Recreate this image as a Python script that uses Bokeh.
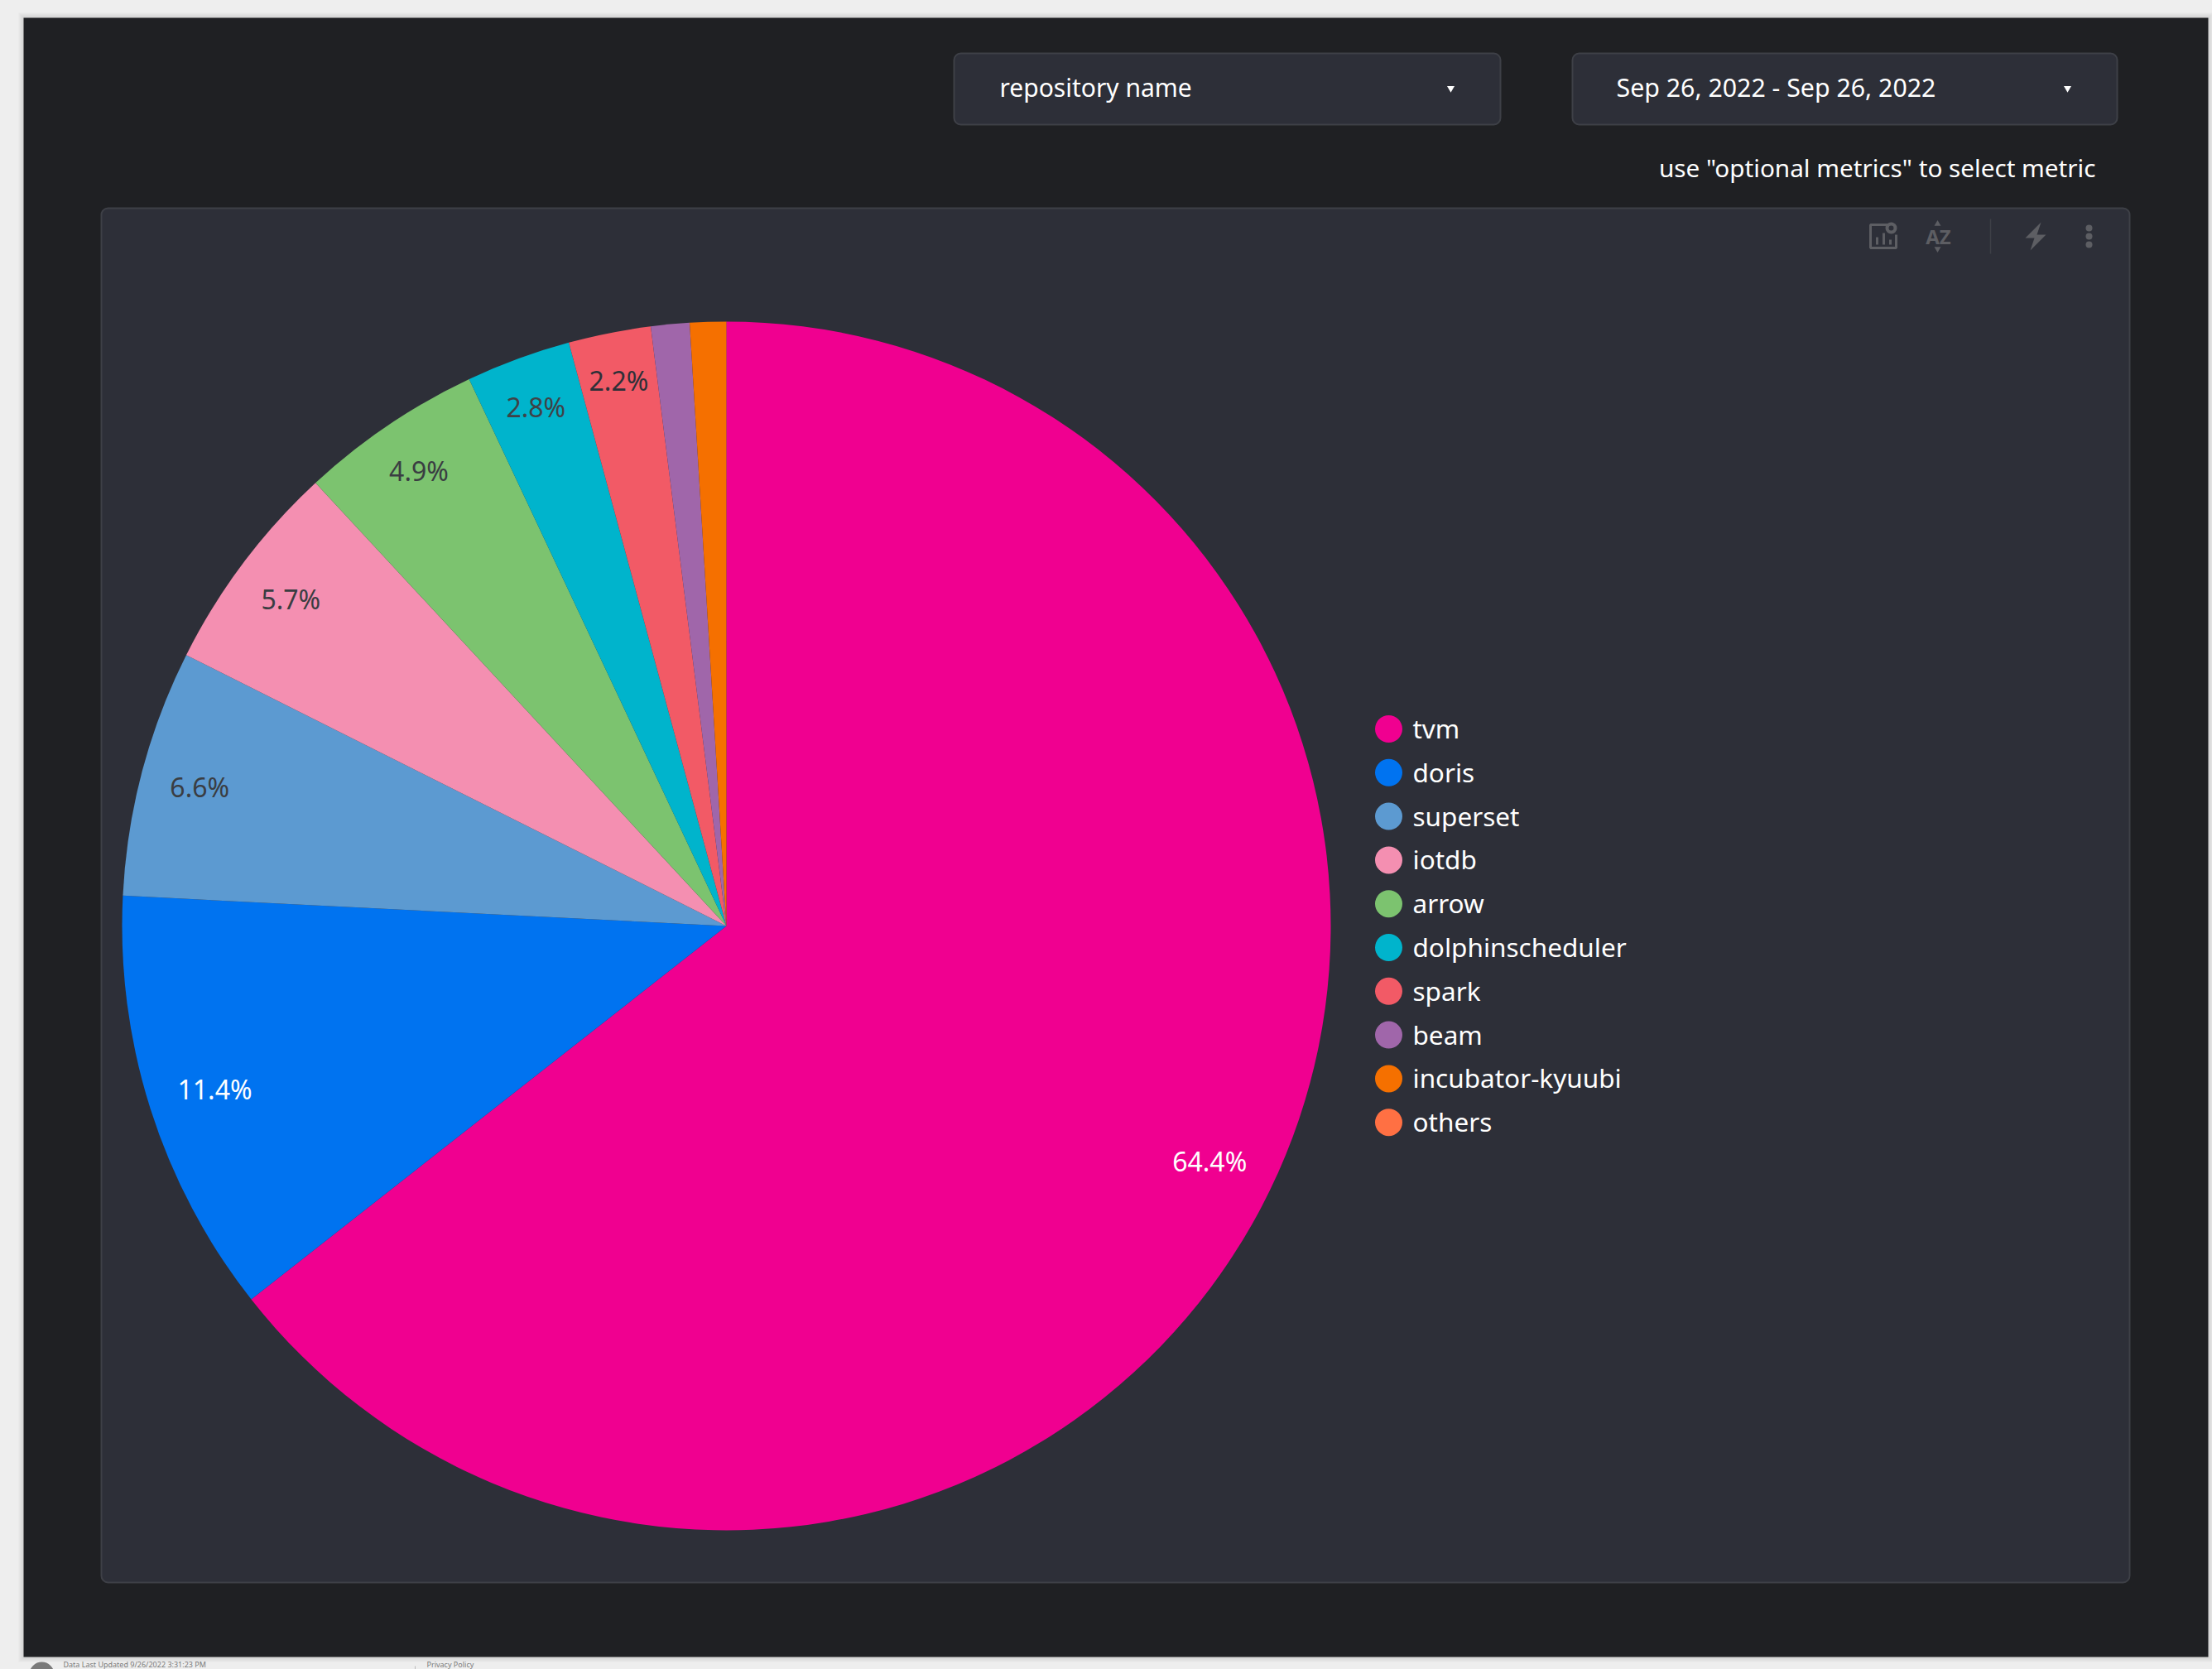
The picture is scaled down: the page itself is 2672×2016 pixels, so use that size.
import math
from bokeh.plotting import figure
from bokeh.models import Range1d
from bokeh.core.properties import value
from bokeh.embed import file_html
from bokeh.resources import INLINE

# ---- data ----
names = ["tvm", "doris", "superset", "iotdb", "arrow", "dolphinscheduler",
         "spark", "beam", "incubator-kyuubi", "others"]
shares = [64.4, 11.4, 6.6, 5.7, 4.9, 2.8, 2.2, 1.03, 0.96, 0.01]
colors = ["#f00090", "#0073f0", "#5c9ad1", "#f48fb1", "#7cc36f", "#00b4cc",
          "#f25a66", "#a066aa", "#f57000", "#ff7043"]
label_colors = ["#ffffff", "#ffffff", "#3a3d42", "#3a3d42", "#3a3d42", "#3f4247",
                "#2f3038", "#3a3d42", "#3a3d42", "#3a3d42"]
label_radii = [649, 648.5, 658, 658, 664, 668, 672, 672, 672, 672]
dropdown_labels = ["repository name", "Sep 26, 2022 - Sep 26, 2022"]
hint = 'use "optional metrics" to select metric'
footer_left = "Data Last Updated 9/26/2022 3:31:23 PM"
footer_right = "Privacy Policy"

# ---- page geometry ----
W, H = 2672, 2016
PAGE_BG = "#eeeeee"
DARK = "#1f2023"
PANEL = "#2d2f38"
EDGE = "#3e4047"
FONT = value("Noto Sans")
ICON = "#5d5e63"
FOOT = "#7a7a7a"


def Y(y):
    return H - y


p = figure(width=W, height=H, output_backend="svg", toolbar_location=None,
           x_range=Range1d(0, W), y_range=Range1d(0, H),
           min_border=0, min_border_left=0, min_border_right=0,
           min_border_top=0, min_border_bottom=0,
           background_fill_color=PAGE_BG, border_fill_color=PAGE_BG,
           outline_line_color=None)
p.axis.visible = False
p.grid.visible = False

# footer
p.circle(x=[50], y=[Y(2022)], radius=15, fill_color=FOOT, line_color=None)
p.text(x=[76], y=[Y(2003)], text=[footer_left], text_color=FOOT, text_font=FONT,
       text_font_size="9px", text_baseline="top", text_align="left")
p.text(x=[515], y=[Y(2003)], text=[footer_right], text_color=FOOT, text_font=FONT,
       text_font_size="9px", text_baseline="top", text_align="left")
p.segment(x0=[501], y0=[Y(2012)], x1=[501], y1=[Y(2016)], line_color="#bbbbbb", line_width=1)

# page panels with a soft shadow
for grow in (6, 4, 2):
    p.quad(left=[28 - grow], right=[2667 + grow], top=[Y(21 - grow)], bottom=[Y(2001 + grow)],
           fill_color="#000000", fill_alpha=0.03, line_color=None)
p.quad(left=[28], right=[2667], top=[Y(21)], bottom=[Y(2001)],
       fill_color=DARK, line_color=None)
p.quad(left=[122], right=[2572], top=[Y(251)], bottom=[Y(1911)],
       fill_color=PANEL, line_color=EDGE, line_width=2, border_radius=8)

# dropdowns
for x0, x1, label, tx, cx, fs in [(1152, 1812, dropdown_labels[0], 1207, 1752, "30px"),
                                  (1899, 2557, dropdown_labels[1], 1952, 2497, "30.3px")]:
    p.quad(left=[x0], right=[x1], top=[Y(64)], bottom=[Y(150)],
           fill_color=PANEL, line_color=EDGE, line_width=2, border_radius=8)
    p.text(x=[tx], y=[Y(105)], text=[label], text_color="#ffffff", text_font=FONT,
           text_font_size=fs, text_baseline="middle", text_align="left")
    p.scatter(x=[cx], y=[Y(106)], marker="inverted_triangle", size=9,
              fill_color="#ffffff", line_color=None)

p.text(x=[2531], y=[Y(202)], text=[hint], text_color="#ffffff", text_font=FONT,
       text_font_size="29.7px", text_baseline="middle", text_align="right")

# toolbar icons
p.line(x=[2284, 2259, 2259, 2290, 2290], y=[Y(271), Y(271), Y(299), Y(299), Y(283)],
       line_color=ICON, line_width=3)
p.segment(x0=[2267, 2275, 2283], y0=[Y(295), Y(295), Y(295)],
          x1=[2267, 2275, 2283], y1=[Y(286), Y(281), Y(289)], line_color=ICON, line_width=3)
p.circle(x=[2284], y=[Y(275)], radius=5, fill_color=PANEL, line_color=ICON, line_width=4)
p.text(x=[2341], y=[Y(285)], text=["AZ"], text_color=ICON, text_font=FONT,
       text_font_size="24px", text_font_style="bold", text_baseline="middle", text_align="center")
p.scatter(x=[2340], y=[Y(270)], marker="triangle", size=8, fill_color=ICON, line_color=None)
p.scatter(x=[2340], y=[Y(300)], marker="inverted_triangle", size=8, fill_color=ICON, line_color=None)
p.segment(x0=[2404], y0=[Y(264)], x1=[2404], y1=[Y(306)], line_color=EDGE, line_width=1.5)
p.patch(x=[2465, 2446, 2457, 2452, 2471, 2460],
        y=[Y(268), Y(287), Y(287), Y(302), Y(283), Y(283)], fill_color=ICON, line_color=None)
p.circle(x=[2523, 2523, 2523], y=[Y(275), Y(285), Y(295)], radius=4, fill_color=ICON, line_color=None)

# pie
CX, CY, R = 877, 1118, 730
total = sum(shares)
start, end, lx, ly, ltext, lcol = [], [], [], [], [], []
cum = 0.0
for v, lc, lr in zip(shares, label_colors, label_radii):
    a0 = 2 * math.pi * cum / total
    a1 = 2 * math.pi * (cum + v) / total
    start.append(math.pi / 2 - a0)
    end.append(math.pi / 2 - a1)
    if v >= 2:
        mid = (a0 + a1) / 2
        lx.append(CX + lr * math.sin(mid))
        ly.append(Y(CY) + lr * math.cos(mid))
        ltext.append(f"{v:.1f}%")
        lcol.append(lc)
    cum += v

p.wedge(x=CX, y=Y(CY), radius=R, start_angle=start, end_angle=end, direction="clock",
        fill_color=colors, line_color=None)
p.text(x=lx, y=ly, text=ltext, text_color=lcol, text_font=FONT, text_font_size="32px",
       text_baseline="middle", text_align="center")

# legend
LEG_X, LEG_Y, LEG_STEP = 1677, 880, 52.8
lys = [Y(LEG_Y + i * LEG_STEP) for i in range(len(names))]
p.scatter(x=[LEG_X] * len(names), y=lys, marker="circle", size=33, fill_color=colors, line_color=None)
p.text(x=[1706] * len(names), y=[v + 1 for v in lys], text=names, text_color="#ffffff", text_font=FONT,
       text_font_size="31.5px", text_baseline="middle", text_align="left")

html = file_html(p, INLINE)
html = html.replace("</head>", "<style>html,body{margin:0;background:#eeeeee;overflow:hidden}</style></head>")
open("out.html", "w").write(html)
